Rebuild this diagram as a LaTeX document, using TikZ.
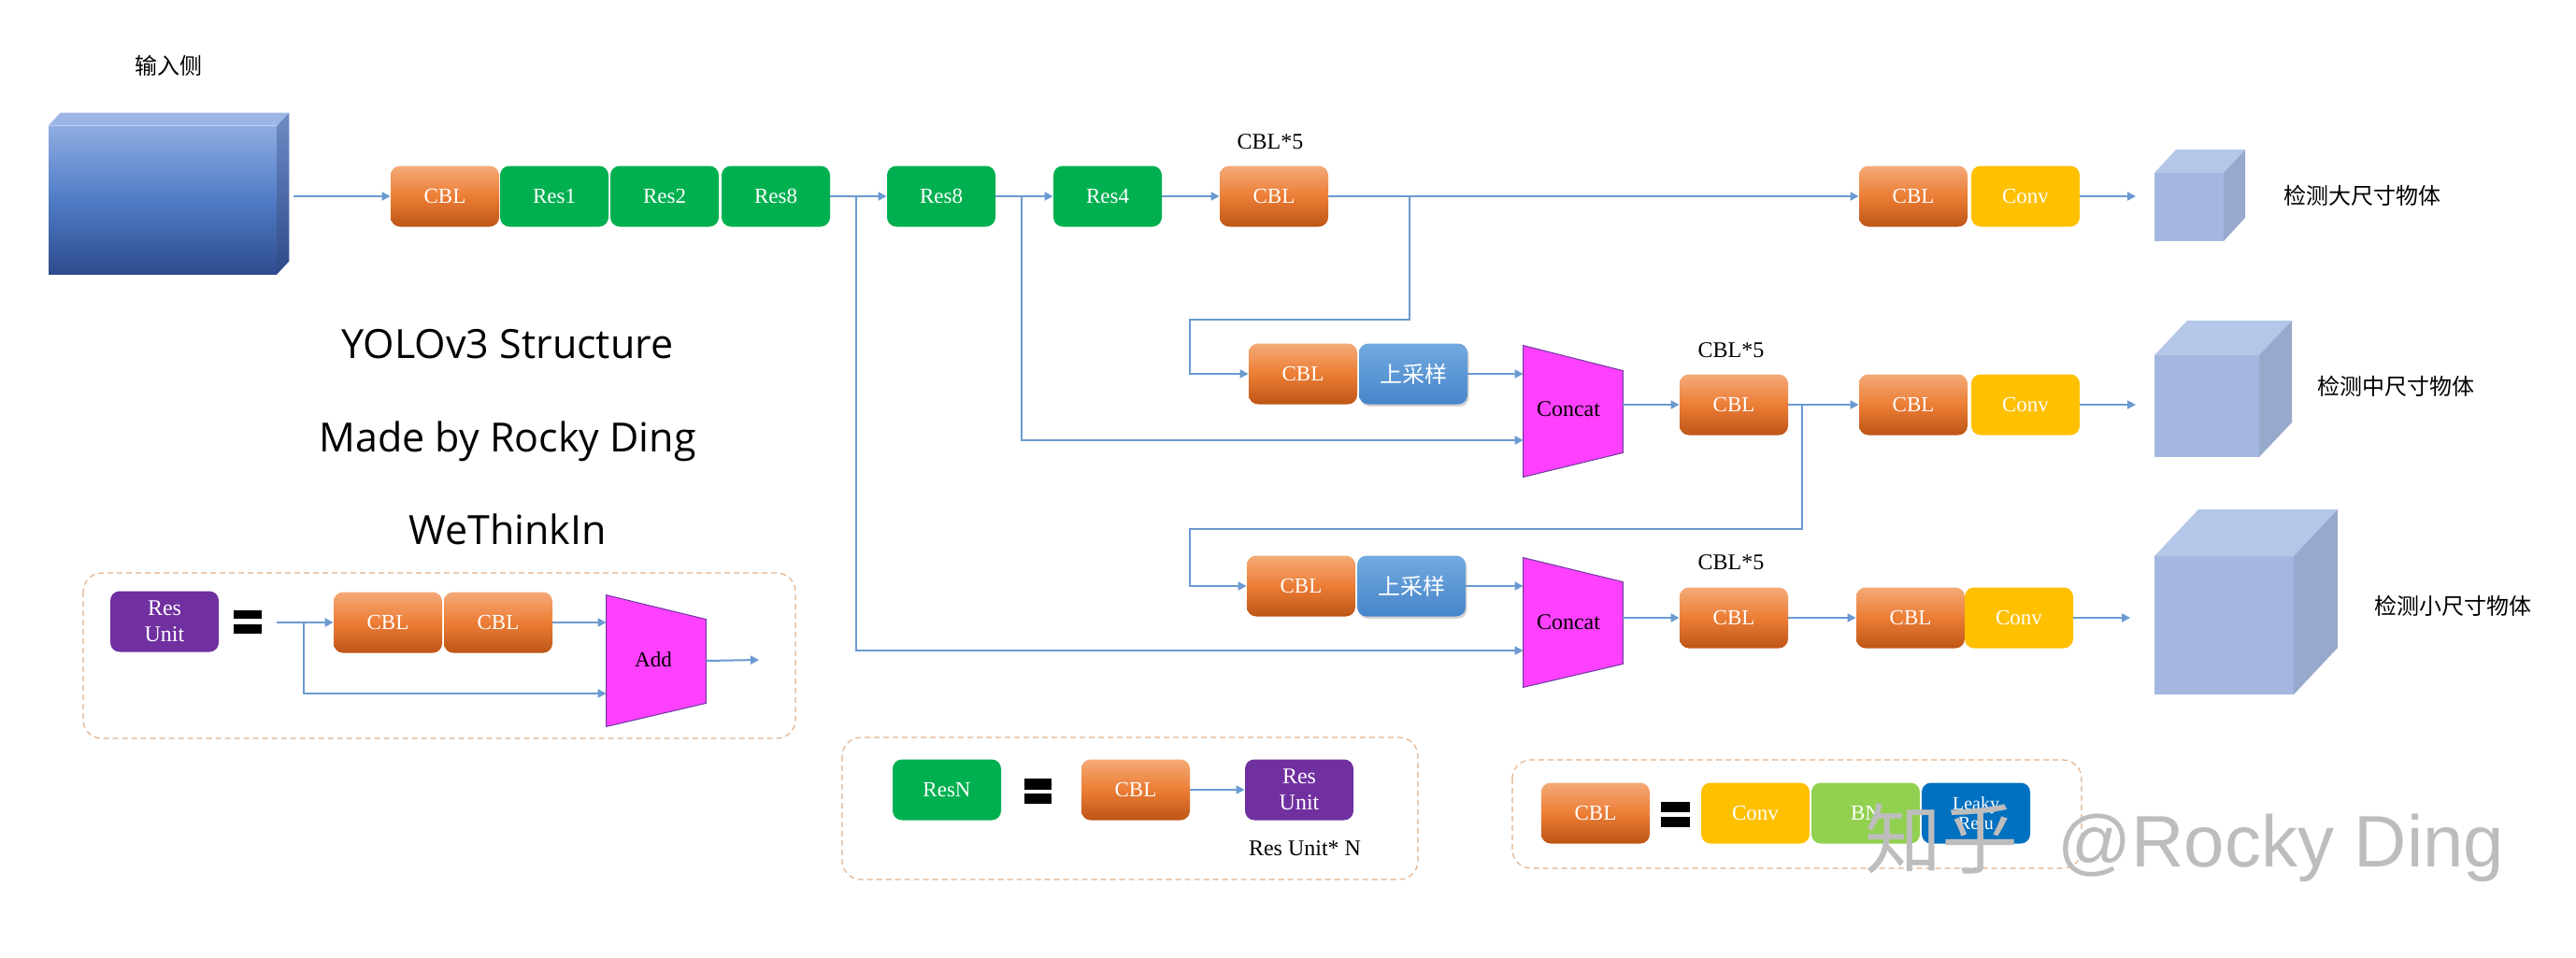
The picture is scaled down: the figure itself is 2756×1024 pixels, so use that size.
\documentclass[tikz,border=0pt]{standalone}
\usepackage{fontspec}
\setmainfont{Liberation Serif}
\newfontfamily\cjk{Noto Sans CJK SC}
\newfontfamily\titlefont{Open Sans}
\newfontfamily\wmfont{Liberation Sans}
\usetikzlibrary{arrows.meta,calc,shadows}
\definecolor{lnk}{HTML}{6A9AD0}
\definecolor{cblT}{HTML}{F4AA78}
\definecolor{cblM}{HTML}{EC7D35}
\definecolor{cblB}{HTML}{BD5516}
\definecolor{resG}{HTML}{00B050}
\definecolor{upT}{HTML}{72AAE0}
\definecolor{upB}{HTML}{4685CA}
\definecolor{convY}{HTML}{FFC000}
\definecolor{bnG}{HTML}{92D050}
\definecolor{reluB}{HTML}{0070C0}
\definecolor{mag}{HTML}{FF40FF}
\definecolor{magD}{HTML}{6B3A9E}
\definecolor{purp}{HTML}{7030A0}
\definecolor{cubeF}{HTML}{A3B7E0}
\definecolor{cubeT}{HTML}{B5C7E9}
\definecolor{cubeS}{HTML}{98A9CD}
\definecolor{dashC}{HTML}{E3B18A}
\definecolor{wm}{HTML}{BDBDBD}
\definecolor{inT}{HTML}{8FACE2}
\definecolor{inM}{HTML}{4F7CC6}
\definecolor{inB}{HTML}{2F4C8E}
\definecolor{inTop}{HTML}{9DB6E6}
\definecolor{inST}{HTML}{6E8CC6}
\definecolor{inSB}{HTML}{2C4A86}
\tikzset{
  blk/.style={rounded corners=5pt, minimum width=58pt, minimum height=32.5pt, inner sep=1pt, text=white, font=\fontsize{11.5}{13}\selectfont, align=center},
  cblbox/.style={blk, shade, top color=cblT, bottom color=cblB, middle color=cblM},
  resbox/.style={blk, fill=resG},
  upbox/.style={blk, shade, top color=upT, bottom color=upB, drop shadow={opacity=0.35, shadow xshift=0.8pt, shadow yshift=-1.2pt}, font=\cjk\fontsize{12}{14}\selectfont},
  convbox/.style={blk, fill=convY},
  bnbox/.style={blk, fill=bnG},
  relubox/.style={blk, fill=reluB, font=\fontsize{10}{10.5}\selectfont},
  unitbox/.style={blk, fill=purp, font=\fontsize{12}{14}\selectfont},
  ghost/.style={minimum width=53pt, inner sep=0pt, draw=none},
  conn/.style={draw=lnk, line width=1pt, -{Triangle[length=4.5pt,width=4.5pt]}},
  wire/.style={draw=lnk, line width=1pt},
  lbl/.style={font=\fontsize{12}{14}\selectfont, text=black, inner sep=0pt},
  cn/.style={font=\cjk\fontsize{12}{14}\selectfont, text=black, inner sep=0pt},
  ttl/.style={font=\titlefont\fontsize{21.5}{24}\selectfont, text=black, inner sep=0pt, anchor=base},
  dbox/.style={draw=dashC, line width=0.6pt, dash pattern=on 3pt off 2pt, rounded corners=10pt},
  trap/.style={fill=mag, draw=magD, line width=0.5pt},
}
\begin{document}
\begin{tikzpicture}[x=0.5pt,y=-0.5pt]
\useasboundingbox (0,0) rectangle (2756,1024);
\fill[white] (0,0) rectangle (2756,1024);

% ---------- input side ----------
\node[cn] (inlbl) at (180,70) {输入侧};
\node[inner sep=0pt, minimum width=122pt, minimum height=79pt, shade, top color=inT, bottom color=inB, middle color=inM] (inp) at (174,214) {};
\fill[inTop] (inp.north west) -- ++(6.5pt,7pt) -- ([shift={(6.5pt,7pt)}]inp.north east) -- (inp.north east) -- cycle;
\shade[top color=inST, bottom color=inSB] (inp.north east) -- ++(6.5pt,7pt) -- ([shift={(6.5pt,7pt)}]inp.south east) -- (inp.south east) -- cycle;
\coordinate (inOut) at (314,210);

% ---------- titles ----------
\node[ttl] (t1) at (543,383) {YOLOv3 Structure};
\node[ttl] (t2) at (543,483) {Made by Rocky Ding};
\node[ttl] (t3) at (543,582) {WeThinkIn};

% ---------- backbone ----------
\node[cblbox] (cbl0) at (476,210) {CBL};
\node[resbox] (res1) at (593,210) {Res1};
\node[resbox] (res2) at (711,210) {Res2};
\node[resbox] (res8a) at (830,210) {Res8};
\node[resbox] (res8b) at (1007,210) {Res8};
\node[resbox] (res4) at (1185,210) {Res4};
\node[cblbox] (cbla) at (1363,210) {CBL};
\node[lbl] (l5a) at (1359,152) {CBL*5};

% top output
\node[cblbox] (cblt) at (2047,210) {CBL};
\node[convbox] (convt) at (2167,210) {Conv};
\coordinate (ot) at (2285,210);

% row 2
\node[cblbox] (cblu1) at (1394,400) {CBL};
\node[upbox] (up1) at (1512,400) {上采样};
\node[ghost, minimum height=70pt] (cat1) at (1683,440) {};
\fill[trap] (cat1.north west) -- ([yshift=-13.5pt]cat1.north east) -- ([yshift=13pt]cat1.south east) -- (cat1.south west) -- cycle;
\node[lbl] at (1678,438) {Concat};
\node[cblbox] (cblm) at (1855,433) {CBL};
\node[lbl] (l5b) at (1852,375) {CBL*5};
\node[cblbox] (cblfm) at (2047,433) {CBL};
\node[convbox] (convfm) at (2167,433) {Conv};
\coordinate (om) at (2285,433);

% row 3
\node[cblbox] (cblu2) at (1392,627) {CBL};
\node[upbox] (up2) at (1510,627) {上采样};
\node[ghost, minimum height=69pt] (cat2) at (1683,666) {};
\fill[trap] (cat2.north west) -- ([yshift=-13pt]cat2.north east) -- ([yshift=12.5pt]cat2.south east) -- (cat2.south west) -- cycle;
\node[lbl] at (1678,666) {Concat};
\node[cblbox] (cblb) at (1855,661) {CBL};
\node[lbl] (l5c) at (1852,602) {CBL*5};
\node[cblbox] (cblfb) at (2044,661) {CBL};
\node[convbox] (convfb) at (2160,661) {Conv};
\coordinate (ob) at (2279,661);

% ---------- output cubes ----------
\fill[cubeF] (2305,185) rectangle (2379,258);
\fill[cubeT] (2305,185) -- (2328,160) -- (2402,160) -- (2379,185) -- cycle;
\fill[cubeS] (2379,185) -- (2402,160) -- (2402,233) -- (2379,258) -- cycle;
\node[cn] (dl) at (2527,209) {检测大尺寸物体};

\fill[cubeF] (2305,380) rectangle (2417,489);
\fill[cubeT] (2305,380) -- (2340,343) -- (2452,343) -- (2417,380) -- cycle;
\fill[cubeS] (2417,380) -- (2452,343) -- (2452,452) -- (2417,489) -- cycle;
\node[cn] (dm) at (2563,413) {检测中尺寸物体};

\fill[cubeF] (2305,595) rectangle (2454,743);
\fill[cubeT] (2305,595) -- (2352,545) -- (2501,545) -- (2454,595) -- cycle;
\fill[cubeS] (2454,595) -- (2501,545) -- (2501,693) -- (2454,743) -- cycle;
\node[cn] (ds) at (2624,648) {检测小尺寸物体};

% ---------- connectors ----------
\draw[conn] (inOut) -- (cbl0.west);
\draw[conn] (res8a.east) -- (res8b.west);
\coordinate (b1) at (916,210);
\draw[conn] (b1) |- ([yshift=-15pt]cat2.west);
\draw[conn] (res8b.east) -- (res4.west);
\coordinate (b2) at (1093,210);
\draw[conn] (b2) |- ([yshift=-15.5pt]cat1.west);
\draw[conn] (res4.east) -- (cbla.west);
\draw[conn] (cbla.east) -- (cblt.west);
\coordinate (b3) at (1508,210);
\draw[conn] (b3) |- (1273,342) |- (cblu1.west);
\draw[conn] (up1.east) -- (up1.east -| cat1.west);
\draw[conn] (cat1.east |- cblm.west) -- (cblm.west);
\draw[conn] (cblm.east) -- (cblfm.west);
\coordinate (b4) at (1928,433);
\draw[conn] (b4) |- (1273,566) |- (cblu2.west);
\draw[conn] (up2.east) -- (up2.east -| cat2.west);
\draw[conn] (cat2.east |- cblb.west) -- (cblb.west);
\draw[conn] (cblb.east) -- (cblfb.west);
\draw[conn] (convt.east) -- (ot);
\draw[conn] (convfm.east) -- (om);
\draw[conn] (convfb.east) -- (ob);

% ---------- legend 1: Res Unit ----------
\draw[dbox] (89,613) rectangle (851,790);
\node[unitbox] (unitr) at (176,665) {Res\\Unit};
\fill[black] (250,653) rectangle (280,662);
\fill[black] (250,668) rectangle (280,678);
\node[cblbox] (cblr1) at (415,666) {CBL};
\node[cblbox] (cblr2) at (533,666) {CBL};
\node[ghost, minimum height=70pt] (add) at (702,707) {};
\fill[trap] (add.north west) -- ([yshift=-13pt]add.north east) -- ([yshift=12.5pt]add.south east) -- (add.south west) -- cycle;
\node[lbl, font=\fontsize{11.5}{13}\selectfont] at (699,706) {Add};
\coordinate (r0) at (296,666);
\draw[conn] (r0) -- (cblr1.west);
\coordinate (rb) at (325,666);
\draw[conn] (rb) |- ([yshift=-17.5pt]add.west);
\draw[conn] (cblr2.east) -- (cblr2.east -| add.west);
\coordinate (ro) at (812,706);
\draw[conn] (add.east) -- (ro);

% ---------- legend 2: ResN ----------
\draw[dbox] (901,789) rectangle (1517,941);
\node[resbox] (resn) at (1013,845) {ResN};
\fill[black] (1096,833) rectangle (1125,845);
\fill[black] (1096,849) rectangle (1125,860);
\node[cblbox] (cbln) at (1215,845) {CBL};
\node[unitbox] (unitn) at (1390,845) {Res\\Unit};
\draw[conn] (cbln.east) -- (unitn.west);
\node[lbl] (rn) at (1396,908) {Res Unit* N};

% ---------- legend 3: CBL ----------
\draw[dbox] (1618,813) rectangle (2227,929);
\node[cblbox] (cblk) at (1707,870) {CBL};
\fill[black] (1777,858) rectangle (1808,869);
\fill[black] (1777,874) rectangle (1808,885);
\node[convbox] (convk) at (1878,870) {Conv};
\node[bnbox] (bnk) at (1996,870) {BN};
\node[relubox] (reluk) at (2114,870) {Leaky\\Relu};

% ---------- watermark ----------
\node[font=\cjk\fontsize{41}{43}\selectfont, text=wm, inner sep=0pt] (wm1) at (2077,897) {知乎};
\node[font=\wmfont\fontsize{39}{41}\selectfont, text=wm, anchor=base west, inner sep=0pt] (wm2) at (2201,927) {@Rocky Ding};
\end{tikzpicture}
\end{document}
